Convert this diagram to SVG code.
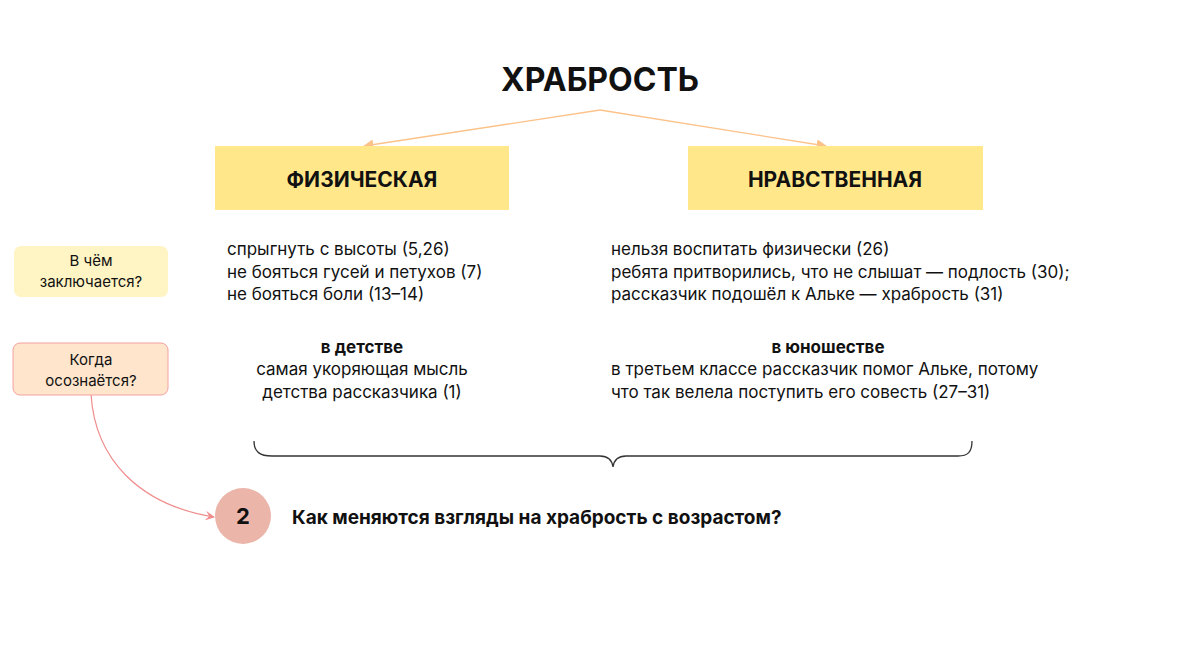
<svg xmlns="http://www.w3.org/2000/svg" width="1200" height="670" viewBox="0 0 1200 670">
<defs>
<marker id="ao" viewBox="0 0 10 10" refX="9" refY="5" markerWidth="8" markerHeight="8" orient="auto"><path d="M0,0 L10,5 L0,10 z" fill="#fcc28a"/></marker>
<marker id="ar" viewBox="0 0 10 10" refX="9" refY="5" markerWidth="8" markerHeight="8" orient="auto"><path d="M0,0 L10,5 L0,10 L4,5 z" fill="#f08c8c"/></marker>
<style>
text{font-family:Inter,"Noto Sans",sans-serif;fill:#111}
.t{font-size:17px}
.b{font-weight:bold}
.s{font-size:15px}
</style>
</defs>
<rect width="1200" height="670" fill="#fff"/>
<g id="title"><text x="600" y="91" font-size="32" class="b" text-anchor="middle">ХРАБРОСТЬ</text></g>
<g id="connectors" fill="none">
<path d="M600,110 L364,146" stroke="#fcc28a" stroke-width="1.3" marker-end="url(#ao)"/>
<path d="M600,110 L826,146" stroke="#fcc28a" stroke-width="1.3" marker-end="url(#ao)"/>
<path d="M91,394 C95,460 140,505 214,517" stroke="#f08c8c" stroke-width="1.2" marker-end="url(#ar)"/>
<path d="M254,441 C254,452 260,456 272,456 L600,456 C608,456 612,460 613,467 C614,460 618,456 626,456 L958,456 C968,456 972,452 972,441" stroke="#333" stroke-width="1.3"/>
</g>
<g id="phys"><rect x="215" y="146" width="294" height="64" fill="#ffe78a"/><text x="362" y="187" font-size="21" class="b" text-anchor="middle">ФИЗИЧЕСКАЯ</text></g>
<g id="moral"><rect x="688" y="146" width="295" height="64" fill="#ffe78a"/><text x="835" y="187" font-size="21" class="b" text-anchor="middle">НРАВСТВЕННАЯ</text></g>
<g id="q1"><rect x="14" y="246" width="154" height="51" rx="7" fill="#fff4c4"/><text class="s" text-anchor="middle"><tspan x="91" y="266">В чём</tspan><tspan x="91" y="287">заключается?</tspan></text></g>
<g id="q2"><rect x="13" y="343" width="155" height="52" rx="7" fill="#fee5cc" stroke="#f5a0a0" stroke-width="1"/><text class="s" text-anchor="middle"><tspan x="91" y="365">Когда</tspan><tspan x="91" y="386">осознаётся?</tspan></text></g>
<g id="phys-text"><text class="t"><tspan x="227" y="255">спрыгнуть с высоты (5,26)</tspan><tspan x="227" y="278">не бояться гусей и петухов (7)</tspan><tspan x="227" y="300">не бояться боли (13–14)</tspan></text></g>
<g id="moral-text"><text class="t"><tspan x="611" y="255">нельзя воспитать физически (26)</tspan><tspan x="611" y="278">ребята притворились, что не слышат — подлость (30);</tspan><tspan x="611" y="300">рассказчик подошёл к Альке — храбрость (31)</tspan></text></g>
<g id="phys-when"><text class="t" text-anchor="middle"><tspan x="362" y="353" class="b">в детстве</tspan><tspan x="362" y="375">самая укоряющая мысль</tspan><tspan x="362" y="398">детства рассказчика (1)</tspan></text></g>
<g id="moral-when"><text class="t"><tspan x="828" y="353" class="b" text-anchor="middle">в юношестве</tspan><tspan x="611" y="375">в третьем классе рассказчик помог Альке, потому</tspan><tspan x="611" y="398">что так велела поступить его совесть (27–31)</tspan></text></g>
<g id="q3"><circle cx="243" cy="516" r="28" fill="#ebb5aa"/><text x="243" y="524" font-size="22" class="b" text-anchor="middle">2</text><text x="292" y="524" font-size="19" class="b">Как меняются взгляды на храбрость с возрастом?</text></g>
</svg>
